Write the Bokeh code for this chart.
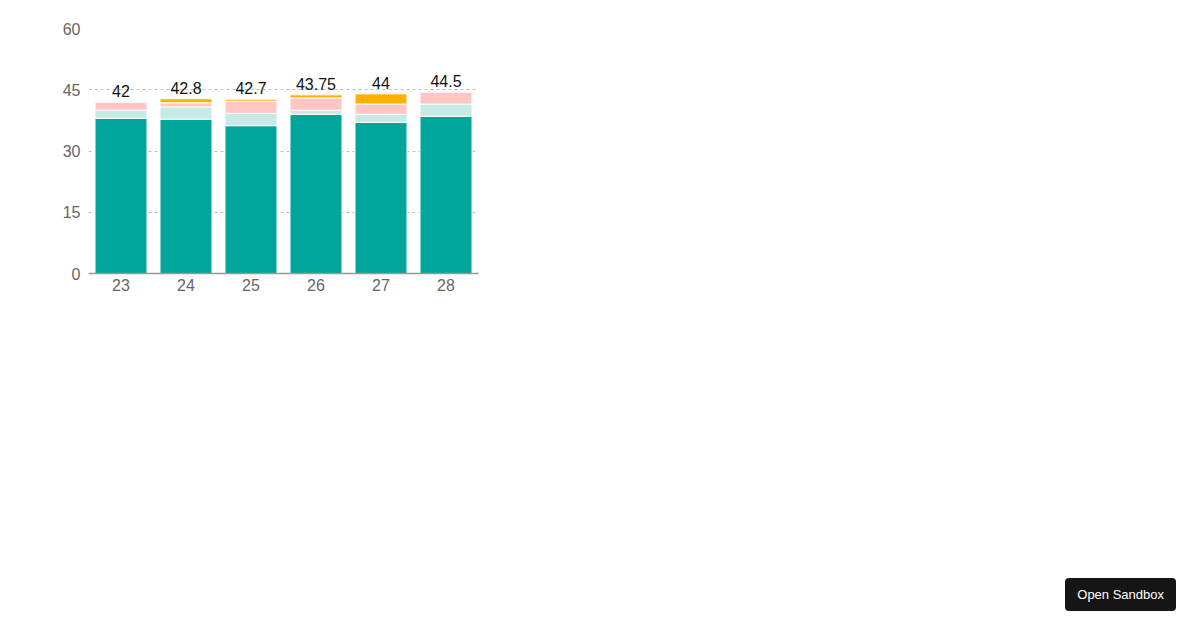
from bokeh.plotting import figure
from bokeh.models import ColumnDataSource, FactorRange, Range1d, Div, LabelSet
from bokeh.layouts import column
from bokeh.core.properties import value
from bokeh.embed import file_html
from bokeh.resources import INLINE

categories = ["23", "24", "25", "26", "27", "28"]
series_a = [38.0, 37.8, 36.2, 39.0, 37.0, 38.5]
series_b = [2.0, 3.0, 3.0, 1.0, 2.0, 3.0]
series_c = [2.0, 1.0, 3.0, 3.0, 2.5, 3.0]
series_d = [0.0, 1.0, 0.5, 0.75, 2.5, 0.0]
y_ticks = [0, 15, 30, 45, 60]

colors = ["#00A59B", "#C6EAE6", "#FFC6C3", "#FFB000"]
keys = ["a", "b", "c", "d"]

totals = [round(a + b + c + d, 2) for a, b, c, d in zip(series_a, series_b, series_c, series_d)]
labels = ["{:g}".format(t) for t in totals]

src = ColumnDataSource(dict(x=categories, a=series_a, b=series_b, c=series_c, d=series_d,
                            total=totals, label=labels))

p = figure(x_range=FactorRange(*categories, range_padding=0), y_range=Range1d(0, 60),
           width=498, height=308, output_backend="svg", toolbar_location=None,
           min_border_left=88, min_border_right=20, min_border_top=28, min_border_bottom=35)
p.x_range.factor_padding = 0
p.vbar_stack(keys, x="x", width=0.8, source=src, color=colors,
             line_color="white", line_width=1)

lab = LabelSet(x="x", y="total", text="label", source=src, text_align="center",
               text_baseline="bottom", y_offset=5, text_font=value("Liberation Sans"),
               text_font_size=value("16px"), text_color=value("#111111"))
p.add_layout(lab)

p.outline_line_color = None
p.background_fill_color = "white"
p.xgrid.grid_line_color = None
p.ygrid.grid_line_color = "#BDBDBD"
p.ygrid.grid_line_dash = "3 3"
p.ygrid.grid_line_width = 1

p.yaxis.ticker = y_ticks
p.yaxis.axis_line_color = None
p.yaxis.major_tick_line_color = None
p.yaxis.minor_tick_line_color = None
p.yaxis.major_tick_out = 0
p.yaxis.major_tick_in = 0
p.yaxis.major_label_text_font = "Liberation Sans"
p.yaxis.major_label_text_font_size = "16px"
p.yaxis.major_label_text_color = "#666666"
p.yaxis.major_label_standoff = 8

p.xaxis.axis_line_color = "#999999"
p.xaxis.axis_line_width = 1.5
p.xaxis.major_tick_line_color = None
p.xaxis.minor_tick_line_color = None
p.xaxis.major_tick_out = 0
p.xaxis.major_tick_in = 0
p.xaxis.major_label_text_font = "Liberation Sans"
p.xaxis.major_label_text_font_size = "16px"
p.xaxis.major_label_text_color = "#666666"
p.xaxis.major_label_standoff = 5

btn = Div(text='<div style="position:fixed;right:24px;bottom:19px;background:#151515;color:white;'
               'font-family:Liberation Sans, Arial, sans-serif;font-size:13px;padding:8px 12px;'
               'line-height:17px;border-radius:4px;">Open Sandbox</div>', width=10, height=10)

layout = column(p, btn)
open("out.html", "w").write(file_html(layout, INLINE))
